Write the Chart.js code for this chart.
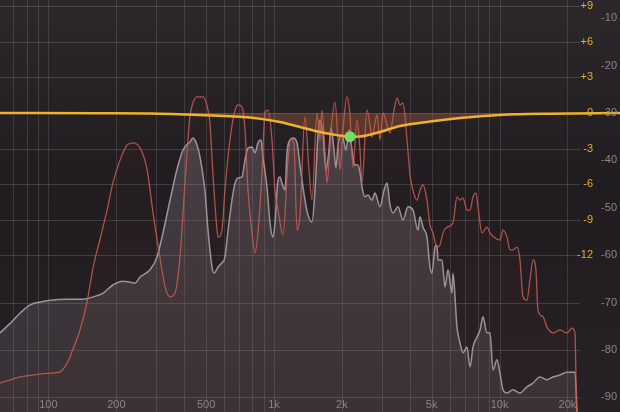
<!DOCTYPE html>
<html>
<head>
<meta charset="utf-8">
<script src="https://cdn.jsdelivr.net/npm/chart.js@4/dist/chart.umd.min.js"></script>
<style>
  html, body { margin: 0; padding: 0; background: #221d21; }
  #wrap { width: 620px; height: 412px; }
</style>
</head>
<body>
<div id="wrap"><canvas id="eq" width="620" height="412"></canvas></div>
<script>
// spectrum analyser (pre / post) + EQ curve

// --- analyser, pre spectrum (grey, filled) : Hz / dB
const preFreq = [61, 68, 75, 83, 92, 102, 121, 142, 158, 175, 193, 214, 230, 242, 255, 282, 303, 322, 346, 371,
  395, 424, 437, 456, 470, 494, 510, 531, 542, 565, 588, 606, 626, 651, 672, 693, 721, 744, 767, 799,
  824, 849, 876, 894, 931, 960, 990, 1010, 1042, 1063, 1085, 1119, 1142, 1177, 1214, 1265, 1304, 1372, 1415, 1474,
  1520, 1567, 1599, 1650, 1700, 1753, 1790, 1845, 1883, 1922, 2003, 2085, 2150, 2217, 2285, 2356, 2406, 2456, 2532, 2610,
  2719, 2803, 2951, 3075, 3169, 3268, 3370, 3546, 3732, 3926, 4133, 4349, 4439, 4577, 4767, 4915, 5017, 5173, 5278, 5334,
  5556, 5729, 5908, 6155, 6218, 6477, 6677, 6887, 7171, 7396, 7626, 7944, 8192, 8445, 8797, 9070, 9352, 9741, 10040, 10360,
  10790, 11470, 12320, 13230, 14070, 15110, 16230, 17260, 18530, 19910, 21600, 22270, 23000];
const preLevel = [-76.4, -74.3, -72.2, -70.5, -69.9, -69.5, -69.3, -69.3, -68.8, -68.0, -66.3, -65.5, -65.7, -65.9, -64.6, -63.1, -60.4, -55.3, -48.4, -42.0,
  -37.8, -36.1, -35.3, -36.8, -39.3, -46.3, -54.7, -62.5, -63.8, -62.5, -61.6, -60.4, -54.7, -48.4, -44.8, -43.7, -43.5, -39.9, -37.4, -37.2,
  -38.4, -36.3, -35.7, -39.3, -45.6, -53.2, -56.2, -53.2, -44.1, -43.5, -44.8, -46.3, -38.4, -35.7, -35.3, -36.3, -41.0, -48.4, -51.5, -53.0,
  -46.3, -34.6, -31.5, -34.6, -42.0, -37.8, -33.0, -37.8, -41.6, -36.8, -34.6, -37.8, -33.6, -37.8, -41.0, -41.0, -42.5, -45.6, -47.7, -47.3,
  -48.4, -46.9, -49.8, -46.3, -44.8, -49.4, -51.1, -49.8, -52.6, -49.8, -50.5, -54.7, -51.9, -54.1, -56.2, -62.5, -63.8, -58.3, -57.9, -61.0,
  -61.0, -66.7, -63.1, -68.0, -63.8, -75.2, -78.5, -80.6, -79.4, -83.6, -79.4, -77.3, -75.8, -73.0, -76.4, -76.4, -84.2, -82.1, -84.9, -88.4,
  -89.1, -88.4, -89.1, -87.8, -87.0, -85.7, -86.3, -85.7, -85.3, -84.7, -84.7, -96, -96];

// --- analyser, post spectrum (red line) : Hz / dB
const postFreq = [61, 68, 75, 85, 102, 112, 121, 128, 138, 148, 158, 169, 182, 193, 208, 223, 237, 255, 274, 291,
  312, 329, 346, 364, 383, 403, 424, 437, 456, 485, 510, 520, 536, 559, 565, 588, 606, 638, 672, 693,
  721, 744, 767, 799, 824, 849, 885, 912, 941, 980, 1010, 1042, 1097, 1154, 1190, 1227, 1265, 1304, 1372, 1430,
  1474, 1551, 1599, 1632, 1683, 1718, 1790, 1864, 1922, 1962, 2022, 2107, 2172, 2240, 2333, 2406, 2456, 2585, 2664, 2719,
  2862, 2951, 3043, 3169, 3268, 3405, 3510, 3620, 3732, 3890, 4010, 4133, 4305, 4439, 4577, 4767, 4915, 5069, 5278, 5444,
  5614, 5848, 6218, 6477, 6677, 6887, 7171, 7396, 7626, 7862, 8027, 8359, 8797, 9070, 9546, 10040, 10360, 10790, 11130, 11470,
  11950, 12320, 12700, 13230, 13640, 14070, 14500, 14800, 15580, 16230, 17260, 18530, 19910, 20950, 21600, 22040, 23000];
const postLevel = [-87.0, -86.3, -85.7, -85.3, -84.9, -84.7, -82.8, -80.0, -75.8, -70.1, -62.5, -56.8, -50.5, -44.8, -39.9, -36.8, -36.3, -37.4, -42.0, -51.1,
  -60.4, -66.7, -68.8, -68.0, -60.4, -44.8, -30.8, -27.9, -26.6, -26.6, -29.4, -32.1, -42.7, -54.7, -56.2, -54.7, -46.3, -35.7, -29.4, -28.3,
  -28.7, -33.6, -46.3, -55.3, -59.5, -55.3, -42.7, -30.0, -29.4, -35.7, -46.3, -50.5, -55.7, -39.9, -35.3, -36.8, -54.7, -51.5, -30.8, -42.0,
  -48.4, -30.0, -35.7, -29.4, -37.8, -44.8, -33.6, -27.7, -35.7, -42.0, -33.6, -26.6, -30.4, -41.4, -31.5, -37.8, -44.8, -29.4, -32.5, -35.1,
  -30.4, -35.7, -30.0, -32.5, -34.2, -29.4, -26.8, -28.3, -27.9, -35.7, -43.1, -46.3, -48.4, -46.3, -45.2, -48.4, -53.6, -55.3, -58.3, -57.9,
  -55.3, -54.1, -53.2, -47.7, -48.4, -47.9, -50.5, -50.5, -47.7, -46.9, -49.8, -55.3, -54.1, -55.3, -56.4, -56.8, -54.7, -56.2, -58.9, -58.9,
  -58.3, -61.0, -68.8, -69.5, -65.2, -61.0, -63.1, -71.6, -73.0, -75.2, -76.4, -75.8, -76.4, -75.4, -76.4, -96, -96];

// --- EQ response : Hz / dB gain
const eqFreq = [61, 169, 282, 470, 783, 1063, 1304, 1599, 1962, 2172, 2406, 2951, 3620, 4915, 6677, 10040, 16740, 34200];
const eqGain = [0, -0.02, -0.04, -0.17, -0.38, -0.76, -1.18, -1.6, -1.91, -2.0, -1.98, -1.6, -1.1, -0.72, -0.42, -0.17, -0.06, 0];

// band node
const bandFreq = [2172];
const bandGain = [-2.0];

// grid + tick labels
const gridFreqs = [70, 80, 90, 100, 200, 300, 400, 500, 600, 700, 800, 900, 1000, 2000, 3000, 4000, 5000, 6000, 7000, 8000, 9000, 10000, 20000];
const freqTicks = [100, 200, 500, 1000, 2000, 5000, 10000, 20000];
const freqLabels = ['100', '200', '500', '1k', '2k', '5k', '10k', '20k'];
const gainTicks = [9, 6, 3, 0, -3, -6, -9, -12];
const gainLabels = ['+9', '+6', '+3', '0', '-3', '-6', '-9', '-12'];
const levelTicks = [-10, -20, -30, -40, -50, -60, -70, -80, -90];
const levelGridOnly = [-70, -80, -90];

const FONT = '11px "Liberation Sans", Arial, sans-serif';

function pairs(xs, ys) { return xs.map((x, i) => ({ x, y: ys[i] })); }

function vGradient(ctx, area, stops) {
  const g = ctx.createLinearGradient(0, area.top, 0, area.bottom);
  stops.forEach(([p, c]) => g.addColorStop(p, c));
  return g;
}

const backdrop = {
  id: 'backdrop',
  beforeDraw(chart) {
    const { ctx, chartArea: a, scales } = chart;
    ctx.save();
    ctx.fillStyle = vGradient(ctx, a, [[0, '#2b272b'], [0.45, '#201c20'], [1, '#262125']]);
    ctx.fillRect(0, 0, chart.width, chart.height);
    ctx.strokeStyle = 'rgba(255,255,255,0.12)';
    ctx.lineWidth = 1;
    gridFreqs.forEach((f) => {
      const x = Math.round(scales.x.getPixelForValue(f)) + 0.5;
      ctx.beginPath(); ctx.moveTo(x, a.top); ctx.lineTo(x, a.bottom); ctx.stroke();
    });
    ctx.strokeStyle = 'rgba(255,255,255,0.14)';
    const hLine = (y) => { y = Math.round(y) + 0.5; ctx.beginPath(); ctx.moveTo(a.left, y); ctx.lineTo(580, y); ctx.stroke(); };
    gainTicks.forEach((g) => hLine(scales.g.getPixelForValue(g)));
    levelGridOnly.forEach((l) => hLine(scales.y.getPixelForValue(l)));
    ctx.restore();
  },
  afterDraw(chart) {
    const { ctx, scales } = chart;
    ctx.save();
    ctx.font = FONT;
    ctx.textBaseline = 'middle';
    ctx.textAlign = 'center';
    ctx.fillStyle = '#8a8489';
    freqTicks.forEach((f, i) => ctx.fillText(freqLabels[i], scales.x.getPixelForValue(f), 405));
    ctx.textAlign = 'right';
    ctx.fillStyle = '#e8ae2e';
    gainTicks.forEach((g, i) => ctx.fillText(gainLabels[i], 593, scales.g.getPixelForValue(g)));
    ctx.fillStyle = '#8c868b';
    levelTicks.forEach((l) => ctx.fillText(String(l), 617, scales.y.getPixelForValue(l)));
    ctx.restore();
  },
};

new Chart(document.getElementById('eq'), {
  type: 'line',
  data: {
    datasets: [
      {
        label: 'band', data: pairs(bandFreq, bandGain), yAxisID: 'g', showLine: false,
        pointRadius: 5.5, pointBackgroundColor: '#74de62', pointBorderWidth: 0,
      },
      {
        label: 'EQ', data: pairs(eqFreq, eqGain), yAxisID: 'g',
        borderColor: '#f0b22a', borderWidth: 2.5, pointRadius: 0,
        cubicInterpolationMode: 'monotone',
        fill: { value: 0 }, backgroundColor: 'rgba(185,100,60,0.35)',
      },
      {
        label: 'post', data: pairs(postFreq, postLevel), yAxisID: 'y',
        borderColor: 'rgba(200,92,84,0.85)', borderWidth: 1.3, pointRadius: 0,
        cubicInterpolationMode: 'monotone',
        fill: 'start', backgroundColor: 'rgba(190,80,70,0.035)',
      },
      {
        label: 'pre', data: pairs(preFreq, preLevel), yAxisID: 'y',
        borderColor: 'rgba(175,168,174,0.85)', borderWidth: 1.5, pointRadius: 0,
        cubicInterpolationMode: 'monotone',
        fill: 'start',
        backgroundColor: (c) => c.chart.chartArea
          ? vGradient(c.chart.ctx, c.chart.chartArea, [[0.25, 'rgba(160,148,158,0.32)'], [1, 'rgba(138,126,136,0.17)']])
          : 'rgba(150,138,148,0.25)',
      },
    ],
  },
  options: {
    responsive: false, animation: false, events: [],
    layout: { padding: 0, autoPadding: false },
    plugins: { legend: { display: false }, tooltip: { enabled: false } },
    scales: {
      x: { type: 'logarithmic', min: 61, max: 34200, display: false },
      y: { type: 'linear', min: -93.1, max: -6.16, display: false },
      g: { type: 'linear', min: -25.2, max: 9.52, display: false },
    },
  },
  plugins: [backdrop],
});
</script>
</body>
</html>
